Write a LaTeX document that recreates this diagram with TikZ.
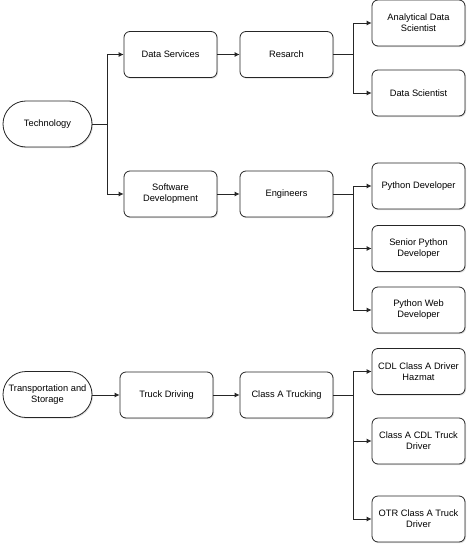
\documentclass[tikz,border=0pt]{standalone}
\usepackage{fontspec}
\setmainfont{Liberation Sans}
\usetikzlibrary{arrows.meta,shapes.misc,shadows}
\begin{document}
\begin{tikzpicture}[x=1pt,y=1pt,
  box/.style={draw=black!85, line width=0.8pt, fill=white, rounded corners=6pt,
    minimum width=93pt, minimum height=46pt, align=center, inner sep=2pt,
    font=\fontsize{9.3}{11}\selectfont,
    drop shadow={opacity=0.25, shadow xshift=1pt, shadow yshift=-1.2pt}},
  stad/.style={box, rounded corners=0pt, rounded rectangle, rounded rectangle arc length=180},
  arr/.style={draw=black!85, line width=0.8pt, -{Latex[length=5pt,width=5pt]}}
]
\useasboundingbox (0,0) rectangle (474,-551);
\node[stad] (tech) at (47.5,-124) {Technology};
\node[box] (ds) at (170.5,-54.5) {Data Services};
\node[box] (sd) at (170.5,-194) {Software\\Development};
\node[box] (res) at (286.5,-54.5) {Resarch};
\node[box] (eng) at (286.5,-194) {Engineers};
\node[box] (ads) at (418.5,-23) {Analytical Data\\Scientist};
\node[box] (dsc) at (418.5,-93) {Data Scientist};
\node[box] (pd) at (418.5,-186) {Python Developer};
\node[box] (spd) at (418.5,-248.5) {Senior Python\\Developer};
\node[box] (pwd) at (418.5,-310) {Python Web\\Developer};
\node[stad] (trans) at (47.5,-394.5) {Transportation and\\Storage};
\node[box] (td) at (166.5,-395) {Truck Driving};
\node[box] (cat) at (286.5,-395) {Class A Trucking};
\node[box] (cdl) at (418.5,-371.5) {CDL Class A Driver\\Hazmat};
\node[box] (cacdl) at (418.5,-441) {Class A CDL Truck\\Driver};
\node[box] (otr) at (418.5,-519) {OTR Class A Truck\\Driver};

\draw[arr] (tech.east) -- ++(15,0) |- (ds.west);
\draw[arr] (tech.east) -- ++(15,0) |- (sd.west);
\draw[arr] (ds) -- (res);
\draw[arr] (sd) -- (eng);
\draw[arr] (res.east) -- ++(20,0) |- (ads.west);
\draw[arr] (res.east) -- ++(20,0) |- (dsc.west);
\draw[arr] (eng.east) -- ++(20,0) |- (pd.west);
\draw[arr] (eng.east) -- ++(20,0) |- (spd.west);
\draw[arr] (eng.east) -- ++(20,0) |- (pwd.west);
\draw[arr] (trans.east |- td.west) -- (td.west);
\draw[arr] (td) -- (cat);
\draw[arr] (cat.east) -- ++(20,0) |- (cdl.west);
\draw[arr] (cat.east) -- ++(20,0) |- (cacdl.west);
\draw[arr] (cat.east) -- ++(20,0) |- (otr.west);
\end{tikzpicture}
\end{document}
